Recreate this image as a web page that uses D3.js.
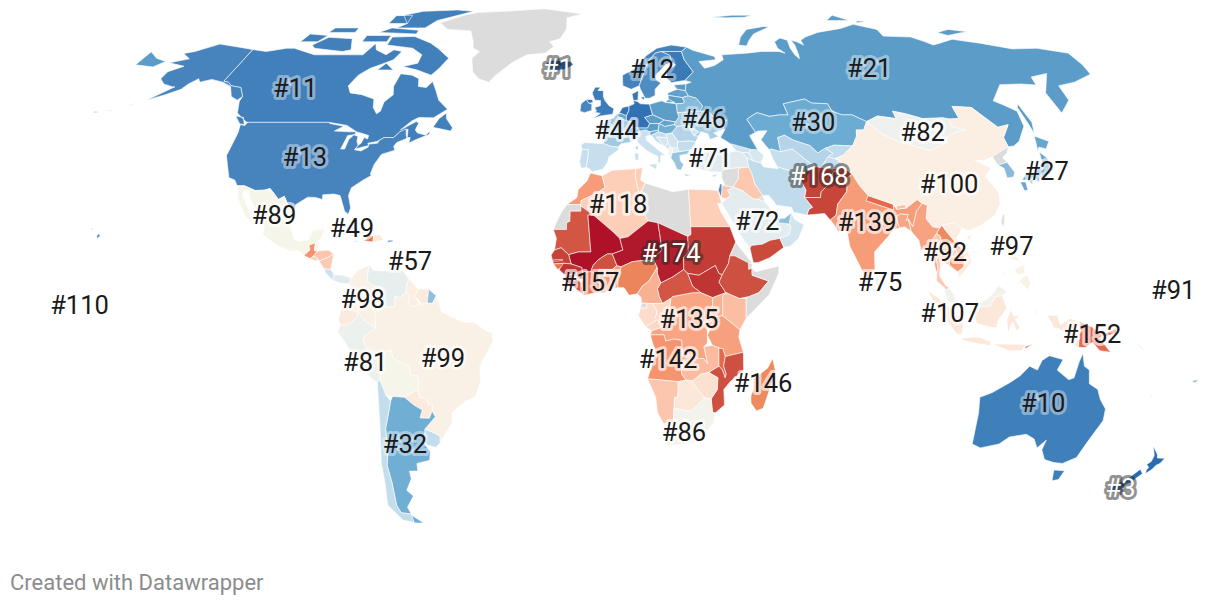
<!DOCTYPE html>
<html><head><meta charset="utf-8">
<script src="https://cdn.jsdelivr.net/npm/d3@7"></script>
<style>html,body{margin:0;padding:0;background:#fff}svg{display:block}</style>
</head><body><svg id="map" width="1220" height="606"></svg>
<script>
// rows: name, rank (null = no data), outlines as "lon,lat ..." rings split by |
const northAmerica = [
["Greenland",null,"-73,78.2 -68,76 -58,75.5 -55,72 -54,70 -51,69 -53,67 -51,63 -48,61 -44,60 -42,62 -37,65.7 -32,68 -25,68.5 -22,70.5 -24,72 -20,73 -18,76 -18.5,80 -12,81.5 -30,83.6 -45,82.7 -60,82 -65,81"],
["Canada",11,"-141,69.6 -135,69 -128,70 -125,70 -115,68 -110,68 -102,68 -96,68 -94,71.5 -92,69.5 -87,68 -85,69.5 -81.5,69 -83,66.5 -87,65 -90,64 -93,62 -94.5,59 -92.5,57 -88,56.5 -83,55.3 -82,53 -80,51.3 -79,52 -79,54.5 -76.8,56.5 -78,58.8 -77.5,62.4 -73,62 -70,61 -69,58.8 -66,58.5 -64.5,60.2 -62,57.5 -60,55 -56,52.5 -60,50.2 -65,50.3 -67,49.4 -70,47 -65.5,49.2 -64.5,48.8 -65,47 -64,46.2 -61,45.6 -60,46.8 -60,45.8 -63.5,44.6 -66,43.6 -66,45 -67,45 -67.5,47.2 -70,46.5 -71.5,45 -74.7,45 -76.5,44 -79.5,43.5 -79,42.9 -80.5,42.6 -83,42 -82.5,43 -81.7,43.5 -81.3,45 -80,44.6 -80,45.5 -82,46 -84.5,46.5 -88.5,48.2 -95,49 -123,49 -125,50 -128,51.5 -130,54.7 -130,56 -133,58.5 -137,59 -139,60 -141,60.3|-80,73.7 -72,71.6 -68,70 -62,67 -64,64 -66,62 -72,63.5 -78,64.5 -73,65.5 -73,68 -78,70 -89,71 -89,73.5|-117,70 -105,69 -102,69.5 -105,73 -115,73.4 -119,71|-125,72 -118,72 -116,74 -124,74.5|-90,76.5 -78,76.5 -75,79 -62,82.5 -70,83.1 -85,82.5 -92,81 -87,78|-96,75 -80,74.5 -80,75.7 -92,76.5|-117,75 -106,75 -106,76.5 -116,76.5|-100,72 -90,72 -90,74 -100,74|-95,78 -87,78 -88,81 -95,80.8|-59.3,47.7 -53,46.7 -52.7,47.6 -55.5,50 -56,51.5 -58,50|-128,50.7 -125,48.6 -123.4,48.4 -125,50.3|-87,63.5 -81,63.5 -85,65.5"],
["United States",13,"-123,49 -95,49 -94.6,48.7 -89.5,48 -92,46.7 -87,46.5 -84.7,46.5 -84.7,45.8 -87,45.5 -87.8,42 -86.5,42 -86.2,44.5 -85,45.7 -83.5,45.3 -83.3,44 -82.5,43 -83.2,41.8 -81,41.5 -79,42.5 -79,43.3 -76.3,43.5 -76,44.2 -74.7,45 -71.5,45 -70,46.5 -68.2,47.3 -67.5,45.5 -67,44.8 -70,43.7 -70.7,42.7 -70,41.7 -74,40.6 -75.5,38 -76,35.5 -75.5,35.2 -78,33.9 -81,32 -81.4,30 -80,26.8 -80.4,25.2 -81.7,26 -82.8,28 -84,30 -86,30.4 -89.5,30.2 -89.3,29 -91.5,29.5 -94,29.6 -97.2,27.7 -97.2,26 -99.5,27.5 -101.4,29.8 -103,29 -104.8,30.5 -106.5,31.8 -108.2,31.4 -111,31.3 -114.8,32.5 -117.1,32.5 -118.5,34 -120.6,34.6 -122.5,37.7 -124.2,40.3 -124,43 -124,46.3 -124.7,48.4 -123,48.2 -122.6,49|-141,69.6 -148,70.4 -156.5,71.3 -163,69 -166.5,68.4 -162,66.8 -168,65.6 -161,64.6 -165,63 -165,61 -162,59.5 -158,58.7 -157,58.7 -163,55 -158,56.5 -154,58 -153,59.5 -151,61 -149.5,60 -146,60.8 -141,60 -137,58.8 -134,56 -131,55 -130,56 -133,58.5 -137,59 -139,60 -141,60.3|-164,54.6 -168,53.3 -167.5,53.6|-171,52.5 -174,52 -173.5,52.2|-176,51.8 -178,51.6 -177.5,51.9|-155.6,19 -155,19.7 -155.8,20.2 -156,19.5|-158.2,21.4 -157.7,21.3 -158,21.7"],
["Mexico",89,"-117.1,32.5 -114.8,32.5 -111,31.3 -108.2,31.4 -106.5,31.8 -104.8,30.5 -103,29 -101.4,29.8 -99.5,27.5 -97.2,26 -97.8,22.4 -95.8,18.8 -94,18.2 -91.5,18.5 -90.5,21 -87,21.5 -87.5,19 -88.3,18.5 -89.1,17.9 -91,17.2 -90.5,16 -92.2,14.6 -94,16 -96.5,15.7 -101,17.3 -105.5,20 -105.5,22 -109,26 -112.5,30 -113,31.2 -114.7,31.5 -114.5,30 -110,24.5 -109.6,23 -112,24.7 -115.5,29"],
["Guatemala",143,"-92.2,14.6 -90.5,16 -91,17.2 -89.1,17.9 -89.2,15.9 -88.3,15.7 -89.3,14.4 -90.2,13.8"],
["Belize",95,"-89.1,17.9 -88.3,18.5 -88.2,16 -89.2,15.9"],
["Honduras",122,"-89.3,14.4 -88.3,15.7 -85,16 -83.2,15 -85,14 -87.4,13.2 -88,13.9"],
["El Salvador",118,"-90.2,13.8 -89.3,14.4 -88,13.9 -87.7,13.2 -89,13.4"],
["Nicaragua",120,"-87.4,13.2 -85,14 -83.2,15 -83.7,11 -85.7,11.1"],
["Costa Rica",58,"-85.7,11.1 -83.7,11 -82.6,9.6 -83,8.2 -85,10"],
["Panama",70,"-83,8.2 -82.6,9.6 -79.8,9.5 -77.4,8.7 -77.8,7.3 -80.3,7.4"],
["Cuba",60,"-84.9,21.9 -82,23.1 -77,21.8 -74.2,20.2 -77.5,19.9 -78,20.7 -82,22.3"],
["Jamaica",60,"-78.3,18.3 -76.3,17.9 -76.6,18.4"],
["Haiti",150,"-74.4,18.4 -71.7,18.1 -71.7,19.7 -73,19.9"],
["Dominican Republic",108,"-71.7,18.1 -68.4,18.6 -69.9,19.8 -71.7,19.9"],
["Puerto Rico",13,"-67.2,18 -65.6,18.2 -65.7,18.5 -67.2,18.5"]
];
const southAmerica = [
["Colombia",98,"-77.4,8.7 -75.5,10.8 -72,12.2 -72.4,11 -72.5,8 -71,7 -67.5,6.2 -67.8,2.8 -70,1.7 -69.9,-4.2 -73,-2.4 -75,-0.1 -78.8,1.4 -77.4,4 -77.8,7.3"],
["Venezuela",76,"-72,12.2 -71,10.8 -68,10.6 -64,10.6 -62,10.7 -60,8.5 -60.7,7 -60.7,5.2 -62.7,3.7 -64,4.1 -64.2,1.4 -66.8,1.2 -67.8,2.8 -67.5,6.2 -71,7 -72.5,8 -72.4,11"],
["Guyana",100,"-60,8.5 -57.2,6 -58,4 -56.6,2 -59,1.3 -60,2.5 -59.8,4.5 -60.7,5.2 -60.7,7"],
["Suriname",105,"-57.2,6 -54,5.9 -54.4,2.3 -56,2 -58,4"],
["French Guiana",40,"-54,5.9 -51.7,4.2 -52.8,2.2 -54.4,2.3"],
["Ecuador",103,"-80,1 -78.8,1.4 -75,-0.1 -75.6,-1.6 -78.3,-3.4 -80.3,-3.4 -81,-2"],
["Peru",81,"-80.3,-3.4 -78.3,-3.4 -75.6,-1.6 -75,-0.1 -73,-2.4 -69.9,-4.2 -73,-6 -73.8,-7.5 -72.5,-9.5 -69.6,-11 -69,-12.5 -69,-16 -69.6,-17.5 -70.4,-18.3 -76,-14 -79,-8 -81.3,-5"],
["Bolivia",90,"-69.6,-11 -65.4,-9.8 -65,-12 -60.5,-13.8 -60,-16.3 -58,-16.5 -57.7,-18 -58.2,-20 -62.6,-22 -66.2,-21.8 -68.2,-21.5 -69.6,-17.5 -69,-16 -69,-12.5"],
["Brazil",99,"-51.7,4.2 -50,0 -48,-0.8 -44,-2.5 -40,-2.8 -37,-4.8 -35,-5.5 -34.8,-7.5 -37,-11 -39,-14 -39,-18 -41,-22 -44,-23 -48.5,-26 -48.8,-28.5 -53.4,-33.7 -53.2,-32 -55.5,-30.9 -57.6,-30.2 -53.8,-27 -54.6,-25.6 -54.3,-24 -55.5,-24 -55.8,-22.3 -58,-22 -58.2,-20 -57.7,-18 -58,-16.5 -60,-16.3 -60.5,-13.8 -65,-12 -65.4,-9.8 -69.6,-11 -72.5,-9.5 -73.8,-7.5 -73,-6 -69.9,-4.2 -70,1.7 -67.8,2.8 -66.8,1.2 -64.2,1.4 -64,4.1 -62.7,3.7 -60.7,5.2 -59.8,4.5 -60,2.5 -59,1.3 -56.6,2 -56,2 -54.4,2.3 -52.8,2.2"],
["Paraguay",104,"-58.2,-20 -58,-22 -55.8,-22.3 -55.5,-24 -54.3,-24 -54.6,-25.6 -55.7,-27.4 -58.6,-27.3 -57.6,-25.3 -60,-24 -62.6,-22"],
["Uruguay",55,"-57.6,-30.2 -55.5,-30.9 -53.2,-32 -53.4,-33.7 -55,-34.9 -58.4,-34"],
["Argentina",32,"-66.2,-21.8 -62.6,-22 -60,-24 -57.6,-25.3 -58.6,-27.3 -55.7,-27.4 -54.6,-25.6 -53.8,-27 -57.6,-30.2 -58.4,-34 -57,-36 -57.7,-38.2 -62,-39 -62.3,-41 -65,-41 -65,-43 -67.5,-46 -65.8,-47.5 -69,-50.5 -68.4,-52.3 -71.8,-52 -72.5,-50 -71.7,-44 -71.8,-39.5 -70.5,-36 -70,-32 -69.8,-30 -68.5,-27 -67,-23|-68.6,-52.6 -65.2,-54.7 -68.6,-54.9"],
["Chile",55,"-69.6,-17.5 -68.2,-21.5 -67,-23 -68.5,-27 -69.8,-30 -70,-32 -70.5,-36 -71.8,-39.5 -71.7,-44 -72.5,-50 -71.8,-52 -68.4,-52.3 -68.6,-54.9 -66.5,-55 -72,-54 -75.5,-50 -74,-44 -73.5,-39 -71.5,-30 -70.4,-18.3"]
];
const europe = [
["Iceland",1,"-24,65.5 -22,66.4 -18,66.2 -14.6,66 -13.6,65 -16,63.8 -19,63.4 -22.7,63.8"],
["Ireland",14,"-10,52 -9.8,54 -8,55.2 -7,54.1 -6,54 -6,52.2 -8.5,51.6"],
["United Kingdom",9,"-5.5,50 -3,50.7 1.3,51.2 1.7,52.7 0,53.5 -1.5,55 -2,56 -2,57.6 -4,57.7 -3,58.6 -5,58.6 -6,57 -5,55 -3,54.9 -3,53.5 -5,53 -4.3,52 -5.2,51.8 -3,51.4|-8,55.2 -6,55.2 -5.5,54.4 -7,54.1"],
["France",44,"-1.8,43.4 -1.2,46 -2.5,47.3 -4.7,48.4 -1.5,48.7 -1.5,49.7 1.5,50.1 2.5,51.1 4.2,50 5.9,49.5 8.2,49 7.6,47.6 6,46.4 7,45.9 7,44.2 7.5,43.8 4,43.4 3,42.5 0.7,42.7|8.6,42.4 9.5,43 9.4,41.5"],
["Spain",56,"-9.2,43.1 -8,43.7 -1.8,43.4 0.7,42.7 3,42.5 3.2,41.8 0,40 -0.5,38.5 -2,36.8 -5.4,36.1 -6.4,37 -7.4,37.2 -7,39 -6.7,41.9 -8.8,41.9"],
["Portugal",56,"-8.8,41.9 -6.7,41.9 -7,39 -7.4,37.2 -8.9,37 -9.5,38.8"],
["Belgium",28,"2.5,51.1 4.2,51.4 6,50.8 5.9,49.5 4.2,50"],
["Netherlands",6,"3.4,51.4 4.7,53 7,53.4 6.9,52.2 6,50.8 4.2,51.4"],
["Germany",5,"6,50.8 6.9,52.2 7,53.4 8.8,54 8.6,54.9 10,54.6 11,54 14.2,53.9 14.7,52 15,51 12.2,50.3 13.8,48.7 13,47.5 9.6,47.5 7.6,47.6 8.2,49 5.9,49.5"],
["Switzerland",15,"6,46.4 7.6,47.6 9.6,47.5 10.4,46.7 9,45.9 7,45.9"],
["Italy",58,"7,45.9 9,45.9 10.4,46.7 12.3,47 13.7,46.5 13.7,45.7 12.3,45.3 12.4,44.2 13.6,43.5 15.9,41.9 18.5,40.2 16.9,40.4 16.6,38.8 15.7,38 15.9,40 12.5,41.5 10.5,42.9 8.8,44.4 7.5,43.8 7,44.2|12.5,38 15.5,38.2 15.1,36.7|8.3,40.9 9.7,41 9.5,39.1 8.5,39"],
["Austria",22,"9.6,47.5 13,47.5 13.8,48.7 17,48.7 16.5,46.9 13.7,46.5 12.3,47 10.4,46.7"],
["Denmark",7,"8.6,54.9 8.2,56.7 10.6,57.7 10.2,55|11.2,55.7 12.5,56 12.4,55"],
["Norway",12,"5,59 5,62 10,64 14,67.5 19,70 25,71 31,70.3 28.5,69 25.5,69 20.6,69 18.1,68.5 15,66 12,61 11,59 8,58"],
["Sweden",16,"11,59 12,61 15,66 18.1,68.5 20.6,69 23.7,67.9 24,65.8 21.5,65 17.3,62 17.3,60.6 18.9,59.8 16.6,58 16.4,56.3 14.3,55.5 12.8,55.5 11.3,58"],
["Finland",8,"23.7,67.9 20.6,69 25.5,69 28.5,69 29,66.5 31.5,62.9 27.8,60.5 22.9,59.9 21.3,61 21.5,63 25.3,65 24,65.8"],
["Estonia",20,"23.5,59.2 28,59.5 27.4,57.6 24.5,58"],
["Latvia",24,"21,57 24.5,58 27.4,57.6 28.2,56.2 26,55.7 21,56.3"],
["Lithuania",22,"21,56.3 26,55.7 26.5,54.5 25.8,54.1 23.5,54 21,55.2"],
["Poland",22,"14.2,53.9 18.5,54.8 19.7,54.4 23.5,54 23.6,51.6 24,50.5 22.6,49.1 18.8,49.6 15,51 14.7,52"],
["Czechia",22,"12.2,50.3 15,51 18.8,49.6 17,48.7 13.8,48.7"],
["Slovakia",25,"17,48.7 18.8,49.6 22.6,49.1 22,48.4 18.8,47.9"],
["Hungary",32,"16.5,46.9 17,48.7 18.8,47.9 22,48.4 22.9,47.9 21,46.2 18.9,45.9 16.6,46.5"],
["Belarus",38,"23.5,54 25.8,54.1 26.5,54.5 26,55.7 28.2,56.2 30.8,55.6 32.7,53.4 31.5,52 23.6,51.6"],
["Ukraine",46,"24,50.5 23.6,51.6 31.5,52 34,52 36,50.4 40,49.6 38.2,47.1 35,46.2 36.5,45.3 33.5,44.5 33,46 30.7,46.5 29.7,45.3 28.2,45.5 30,46.5 26.6,48.3 22.9,47.9 22,48.4 22.6,49.1"],
["Moldova",62,"26.6,48.3 30,46.5 28.2,45.5"],
["Romania",50,"22.9,47.9 26.6,48.3 28.2,45.5 29.7,45.3 28.6,43.8 27,44.1 22.7,43.9 22.7,44.2 21,46.2"],
["Bulgaria",55,"22.7,43.9 27,44.1 28.6,43.8 27.6,42 26.3,41.7 22.9,41.3 22.4,42.3"],
["Serbia",62,"18.9,45.9 21,46.2 22.7,44.2 22.4,42.3 21,42.2 20.1,42.6 19.5,43.5 19.2,45"],
["Croatia",55,"13.7,45.5 16.6,46.5 18.9,45.9 19.2,45 15.8,45.1 18.4,42.6 15.2,44.2 14.5,45.2"],
["Slovenia",30,"13.7,46.5 16.5,46.9 16.6,46.5 13.7,45.5"],
["Bosnia and Herzegovina",65,"15.8,45.1 19.2,45 19.5,43.5 18.4,42.6"],
["Montenegro",62,"18.4,42.6 19.5,43.5 20.1,42.6 19.3,41.9"],
["Albania",85,"19.3,41.9 20.1,42.6 21,42.2 20.6,41 20,39.7 19.4,40.5"],
["North Macedonia",70,"20.6,41 21,42.2 22.4,42.3 22.9,41.3"],
["Greece",42,"20,39.7 20.6,41 22.9,41.3 26.3,41.7 26,40.8 23,40.3 23,39 24,38 23,36.5 21.7,36.8 21,38.5|23.6,35.6 26.3,35.2 24.5,35"],
["Turkey",71,"26.3,41.7 27.6,42 29,41.2 31.5,41.2 35,42 38,41 41.5,41.5 43.5,41.1 44.7,39.7 44.8,37.3 42.3,37.2 36.7,36.8 36,36 32.5,36.1 30.5,36.5 27.4,37 26.3,38.7 26.2,40 29,40.4 26.8,40.6"],
["Georgia",60,"40,43.4 46.5,41.9 45.5,41 43.5,41.1 41.5,41.5"],
["Armenia",60,"43.5,41.1 45.5,41 46.5,38.9 44.7,39.7"],
["Azerbaijan",66,"45.5,41 46.5,41.9 48.6,41.8 50.3,40.3 48.9,38.4 46.5,38.9"],
["Cyprus",50,"32.3,35 34.5,35.6 33.6,34.8"]
];
const asia = [
["Russia",21,"37,45 40,43.4 46.5,41.9 48.6,41.8 47.5,44 46.8,45.5 49,46.4 47,49.8 48.6,50.6 51,51.6 55,50.6 58.5,51 61.5,51 61,54 69,55.3 71,54.2 76.5,54 77,52 80,51 83.5,51 87.5,49.2 92,50.7 98,50 98,52 102,51.3 107,50 114,50.2 116,49.9 119.5,50 119.5,53.3 126,53 131,47.7 135,48.4 131,45 131,42.6 133,42.8 135.5,44 140,48 141,52 137.5,53.8 135.2,54.8 142,59.3 150,59.5 155,59.2 156,61.5 163,62.5 156,57 156,51.5 162,55 163,59 170,60 179,62.3 180,65 180,68.5 170,70 160,69.8 150,71.5 140,72.8 133,71.5 130,71 128,72 124,73.5 113,73.8 113,76 105,77.7 98,76.3 87,75 80.7,73.5 78,72.5 78,71 76,72 74,72.5 74.5,71 74,68 73.5,66.8 72.5,68 72,70 72.5,72.5 70,73.2 67,72 67,70 69,68.5 67,69 60,69 54,68.5 44,68 44,66.5 40,64.8 36,64 34.5,66 41,66.5 41,67.5 33,69.4 31,70.3 28.5,69 29,66.5 31.5,62.9 27.8,60.5 30,60 28,59.5 27.4,57.6 28.2,56.2 30.8,55.6 32.7,53.4 31.5,52 34,52 36,50.4 40,49.6 38.2,47.1 39,47.2|-180,65 -172.5,64.4 -170,66 -175,67 -180,68.9|52,71 55,70.7 57,72.5 60,74.5 68,76.8 66,77 58,76 54,73.5|142,46 143.5,49 143,54 142,53 142,49|95,79 105,79 100,81|107,78.2 112,78.8 108,78.9|137,75 143,76 150,75.2 146,74.8 140,74|45,80.2 55,81 64,81 60,80.2 52,80|19.7,54.4 23,54.4 21,55.2"],
["Kazakhstan",30,"49,46.4 47,49.8 48.6,50.6 51,51.6 55,50.6 58.5,51 61.5,51 61,54 69,55.3 71,54.2 76.5,54 77,52 80,51 83.5,51 87.5,49.2 85.5,47 83,47 82.3,45.3 80,42.8 74,43 70.9,42.2 68,41 66,42.9 61,44.3 58.5,45.6 56,45 56,41.3 53,42 52.4,41.8 50.3,44.4 53,46.8 50,46.7"],
["Uzbekistan",50,"56,45 58.5,45.6 61,44.3 66,42.9 68,41 70.9,42.2 73,40.8 71,40 68,37.2 66.5,37.4 64,38.9 60,42 56,41.3"],
["Turkmenistan",56,"52.4,41.8 53,42 56,41.3 60,42 64,38.9 66.5,37.4 61,35.5 54,37.4 53,39.5"],
["Kyrgyzstan",54,"70.9,42.2 74,43 80,42.8 76,40.4 73,39.5 71,40 73,40.8"],
["Tajikistan",56,"68,37.2 71,40 73,39.5 75,38.5 75,37.4 71.5,36.8"],
["Afghanistan",168,"61,35.5 66.5,37.4 68,37.2 71.5,36.8 75,37.4 71.5,36 69.5,33 66.5,31 66,29.5 61,29.5 61.8,31.4 60.8,33.6"],
["Pakistan",166,"61,25 61.8,26.5 63,27 61,29.5 66,29.5 66.5,31 69.5,33 71.5,36 75,37.4 77.5,35.5 74.5,34 75,32.5 74.5,31 71,27.8 70,25 68,23.7 66.5,25.4"],
["Iran",54,"44.8,37.3 44.7,39.7 46.5,38.9 48.9,38.4 49.5,37.4 54,36.9 54,37.4 61,35.5 60.8,33.6 61.8,31.4 61,29.5 63,27 61.8,26.5 61,25 57,25.7 56.5,27 52,27.5 50,30 48,30 46,33 45.5,35.5"],
["Iraq",121,"42.3,37.2 44.8,37.3 45.5,35.5 46,33 48,30 46.5,29 44.7,29.2 42,31.2 39,32.2 41,34.4 41.3,36.7"],
["Syria",null,"36.7,36.8 42.3,37.2 41.3,36.7 41,34.4 39,32.2 36.5,32.5 35.8,34.6 36,36"],
["Israel",16,"34.3,31.3 35,33 35.6,33 35.5,31.5 35,29.5"],
["Jordan",122,"35,29.5 35.5,31.5 35.6,32.7 36.5,32.5 39,32.2 37.2,31.3 38,30 36.7,29.2"],
["Saudi Arabia",72,"35,28 36.7,29.2 38,30 37.2,31.3 39,32.2 42,31.2 44.7,29.2 46.5,29 48.4,28.5 50,26.7 51,24.6 52,23 55.2,22.7 55.7,22 55,20 52,19 49,18.5 46.5,17.5 43.2,17.2 42.7,16.5 41,18.5 39,21.5 37.2,24.5"],
["Yemen",164,"42.7,16.5 43.2,17.2 46.5,17.5 49,18.5 52,19 53,16.7 48.5,14 45,12.8 43.5,12.7 43.2,14"],
["Oman",62,"52,19 55,20 55.7,22 55.2,22.7 55.7,24 56.3,25.6 57,23.9 59.8,22.5 57.7,19 55,17 53,16.7"],
["United Arab Emirates",40,"51.6,24.2 54,24.2 56.3,25.6 55.7,24 55.2,22.7 52,23"],
["Qatar",62,"51,24.6 51.6,26 51.6,24.8"],
["Kuwait",62,"46.5,29 48,30 48.4,28.5"],
["India",139,"68,23.7 70,25 71,27.8 74.5,31 75,32.5 74.5,34 77.5,35.5 79,32.5 81,30 80,28.7 88,26.3 88.2,27.8 89,26.5 92,26.8 96,29 97.3,28 95,26 94,24 93,22 92,24 91.2,23.5 92.2,25.1 89.8,25.3 88.3,24.5 88.9,21.7 87,21.3 85,19.5 80.3,15.5 80,11 77.5,8 76,11 73,17 72.7,21 70,20.8 69,22.5"],
["Nepal",152,"80,28.7 81,30 88.2,27.8 88,26.3"],
["Bhutan",125,"89,27.3 92,27.8 92,26.8 89,26.5"],
["Bangladesh",135,"88.3,24.5 89.8,25.3 92.2,25.1 91.2,23.5 92,24 92.3,20.8 90.5,22 88.9,21.7"],
["Sri Lanka",75,"79.8,8 80.2,9.7 81.8,7.5 80.6,6"],
["China",100,"75,37.4 73.7,39.5 76,40.4 80,42.8 82.3,45.3 83,47 85.5,47 87.5,49.2 91,46 95.5,44 101,42.6 105,41.6 111.5,43.7 112,45 117,46.7 119.5,47 115.5,47.9 116,49.9 119.5,50 119.5,53.3 126,53 131,47.7 135,48.4 131,45 131,42.6 128,41.5 124.3,40 121,39 118,39.2 122.5,37 119.5,35 122,31 121.5,28 119,25 114,22.4 110,21 108,21.6 106,23 102,22.4 101.1,21.6 99,22 97.5,24 98.7,27.5 97.3,28 96,29 92,26.8 92,27.8 89,27.3 88.2,27.8 81,30 79,32.5 77.5,35.5|108.7,19.2 110.5,20.1 109.7,18.3"],
["Mongolia",82,"87.5,49.2 92,50.7 98,50 98,52 102,51.3 107,50 114,50.2 116,49.9 115.5,47.9 119.5,47 117,46.7 112,45 111.5,43.7 105,41.6 101,42.6 95.5,44 91,46"],
["North Korea",null,"124.3,40 128,41.5 131,42.6 129.7,41 127.5,39.8 128.3,38.6 125,37.8"],
["South Korea",38,"125,37.8 128.3,38.6 129.4,36 128.5,34.8 126.3,34.5 126.5,37"],
["Japan",27,"130.9,34 132.5,35.5 136,35.8 137,37 139.5,38.3 140.3,41.2 142,39.5 140.8,35.7 139,35 137,34.6 135.7,33.5 135,34.6 132.5,34|140,41.5 141.5,45.4 145.3,44 143,42 141,42.5|130,33.5 131.7,33.5 131.5,31.4 130.3,31.3|132.5,33.8 134.5,34.2 133.5,33"],
["Taiwan",null,"120.2,23 121.5,25.3 121.9,25 120.9,22"],
["Myanmar",136,"92.3,20.8 92,24 93,22 94,24 95,26 97.3,28 98.7,27.5 97.5,24 99,22 101.1,21.6 100,20.3 97.7,18 98.7,15 99,11 98.5,10 97.7,14 97.5,16.6 94.5,16 94.2,18.5"],
["Thailand",120,"97.7,18 100,20.3 101,19.5 101,17.6 104.8,17.4 105.5,14.5 102.8,14 102.5,12.1 100.9,12.7 100.5,13.5 100,13 99.3,9.3 101,6.8 102,6.2 101,5.7 100.2,6.5 98.3,8 98.5,10 99,11 98.7,15"],
["Laos",146,"100,20.3 101.1,21.6 102,22.4 103,20.8 104.6,18.8 106.8,16.3 107.5,14.7 105.5,14.5 104.8,17.4 101,17.6 101,19.5"],
["Vietnam",101,"102,22.4 106,23 108,21.6 105.7,19 108.5,16 109.3,13 107,10.5 105,8.7 104.8,10.4 106.7,11.6 107.5,14.7 106.8,16.3 104.6,18.8 103,20.8"],
["Cambodia",139,"102.8,14 105.5,14.5 107.5,14.7 106.7,11.6 104.8,10.4 102.5,12.1"],
["Malaysia",84,"100.2,6.5 101,5.7 102,6.2 103.4,4.5 104.2,1.4 101.3,2.9|109.6,1.9 111.5,2.6 113,3.2 115.2,5 116.7,7 119.2,5.2 117.7,4.2 115.7,4 114,1.5 112,1.4 110,1"],
["Indonesia",107,"95.3,5.6 98,4 103.5,0 106,-3 105.8,-5.8 104,-5.6 100.5,-1.5 97,3|105.2,-6.8 108.5,-6.5 111,-6.5 114.5,-7.7 114.4,-8.7 110,-8.1 106.5,-7.4|109,0 109.6,1.9 110,1 112,1.4 114,1.5 115.7,4 117.7,4.2 119,1 116.5,-2 116,-4 114.5,-4 110,-3|119.5,-5.5 120.4,-3 121,-2.6 122,-5 123,-4 121.5,-1.9 123,-1 121,-1 120,1 125,1.7 120.5,1.2 119,-2|131,-1 134,-0.8 135,-3.3 138,-1.7 141,-2.6 141,-9.1 138,-8.3 138,-7 135,-4.4 133,-4 132.5,-2.8|115,-8.3 119,-8.3 125,-8.4 124,-10 120,-10|128,1 128,-1 127.5,0"],
["Timor-Leste",150,"124.9,-8.9 127.3,-8.3 125,-9.5"],
["Philippines",97,"120.5,18.5 122.2,18.4 121.6,16 124,13 121,13.7 120,16|122,7 125.5,9.7 126.5,7.5 125.5,5.7 123.5,7.7|122,11 125,12.3 125,10 122.7,9.6|117.2,8.4 119.5,11.3 119.2,10.2"],
["Papua New Guinea",152,"141,-2.6 144.5,-3.8 147.8,-6 147,-6.8 150.8,-10.4 147.5,-10 145,-7.8 143,-9.2 141,-9.1|148.5,-5.6 152,-4.2 152,-5.5 149,-6.3"],
["Solomon Islands",110,"157,-7.5 161,-10 160,-9"],
["New Caledonia",100,"164,-20.2 167,-22.3 166,-22"],
["Fiji",40,"177.3,-17.6 178.6,-17.5 178.4,-18.2 177.3,-18.2"],
["Australia",10,"113.5,-22 114.2,-26 115,-34 118,-35 123.5,-34 126,-32.2 131,-31.5 134,-32.7 136,-35 138,-33 137.8,-35.5 140,-38 143.5,-38.8 146.4,-39 150,-37.5 151,-34 153.5,-28 153,-25 150.5,-22.5 149,-20 146,-18.5 145.2,-15 143.5,-14 142.5,-10.7 141.7,-13 141,-17 139.5,-17.5 135.5,-15 136.8,-12.3 132.5,-11.3 130.5,-12.5 129.5,-15 127,-14 124.5,-16.5 122.2,-18 117,-20.8|144.7,-40.7 148.3,-40.9 147.9,-43.2 146,-43.5"],
["New Zealand",3,"172.7,-40.5 174.3,-41.7 173,-43 172.8,-43.8 171.2,-44.5 170.8,-45.9 169,-46.6 166.5,-46 167.5,-44.8 170.5,-43 171.5,-41.8|172.7,-34.5 174.5,-36 175.5,-36.8 176,-37.6 178.5,-37.7 177.9,-39 177,-39.5 176.5,-40.5 175.3,-41.6 174.8,-40.8 175,-40 173.8,-39.3 174.7,-38.5 174.6,-37"]
];
const africa = [
["Morocco",139,"-5.9,35.8 -2.2,35.1 -1.2,32.1 -3.7,30.7 -8.7,28.7 -8.7,27.7 -13,27.7 -10,29.5 -9.7,31.5 -7,33.7"],
["Western Sahara",null,"-13,27.7 -8.7,27.7 -8.7,26 -12,26 -12,23.4 -13,23 -13,21.3 -17,21.3 -16,23.5 -14.5,26"],
["Algeria",118,"-2.2,35.1 1,36.5 8.6,36.9 8.3,35 9.5,30.2 9.9,27 12,23.5 5.8,19.4 3.3,19 1.2,20.7 -4.8,25 -8.7,27.3 -8.7,28.7 -3.7,30.7 -1.2,32.1"],
["Tunisia",118,"8.6,36.9 10.8,37.2 10,34 11.5,33.2 9.5,30.2 8.3,35"],
["Libya",null,"9.5,30.2 11.5,33.2 15,32.3 20,31 25,31.6 25,22 25,20 24,19.5 15,23 12,23.5 9.9,27"],
["Egypt",118,"25,31.6 31,31.5 34.2,31.3 35,28 33.7,28 34.5,26 37,22 25,22"],
["Mauritania",158,"-17,21.3 -13,21.3 -13,23 -12,23.4 -12,26 -8.7,26 -8.7,27.3 -4.8,25 -6.5,25 -5.5,15.5 -9.3,15.5 -12.2,14.8 -14.5,16.6 -16.5,16 -16,19"],
["Mali",175,"-12.2,14.8 -9.3,15.5 -5.5,15.5 -6.5,25 -4.8,25 1.2,20.7 3.3,19 4.2,16 1,15 -0.5,15 -2,14.2 -3.5,13.3 -4.8,12 -5.5,10.4 -8,10.3 -8.2,11.5 -11.4,12.4"],
["Senegal",168,"-17.5,14.7 -16.5,16 -14.5,16.6 -12.2,14.8 -11.4,12.4 -13.7,12.6 -16.7,12.4"],
["Gambia",172,"-16.7,13.5 -14,13.6 -14,13.3 -16.7,13.1"],
["Guinea-Bissau",150,"-16.7,12.4 -13.7,12.6 -13.7,11.7 -15.5,11"],
["Guinea",170,"-13.7,12.6 -11.4,12.4 -8.2,11.5 -8,10.3 -7.7,8.5 -9.5,8.5 -10.5,9.8 -13.2,9.5 -15,10.9"],
["Sierra Leone",165,"-13.2,9.5 -10.5,9.8 -10.7,8 -11.5,7 -13.2,8"],
["Liberia",160,"-11.5,7 -10.7,8 -9.5,8.5 -8.3,7.5 -7.5,4.4"],
["Cote d'Ivoire",150,"-8.3,7.5 -7.7,8.5 -8,10.3 -5.5,10.4 -3,10 -2.7,5.2 -7.5,4.4"],
["Burkina Faso",160,"-5.5,10.4 -4.8,12 -3.5,13.3 -2,14.2 -0.5,15 1,15 2.4,12 1,11 0,11 -3,11 -3,10"],
["Ghana",138,"-3,10 -3,11 0,11 0.5,8 1.2,6.1 -2,4.8 -2.7,5.2"],
["Togo",135,"0,11 1,11 1.6,9 1.7,6.2 1.2,6.1 0.5,8"],
["Benin",140,"1,11 2.4,12 3.7,11.7 2.7,9 2.7,6.3 1.7,6.2 1.6,9"],
["Niger",174,"4.2,16 3.3,19 5.8,19.4 12,23.5 15,23 15.5,20 16,16 13.5,14 13.6,13.3 10,13.3 7,13 3.7,11.7 2.4,12 1,15"],
["Nigeria",147,"2.7,6.3 2.7,9 3.7,11.7 7,13 10,13.3 13.6,13.3 14.5,11.5 12,8 10,6.7 8.5,4.7 6,4.3 4.5,6.3"],
["Chad",173,"15,23 24,19.5 24,15.5 22.5,14 22.5,11 19,9 15.5,7.5 14.5,10 14.5,11.5 13.6,13.3 13.5,14 16,16 15.5,20"],
["Sudan",169,"25,22 37,22 38.5,18 36.5,14.5 36,12.5 34,9.6 33,10 32,12 27,9.5 23.6,10 22.5,11 22.5,14 24,15.5 24,19.5 25,20"],
["South Sudan",170,"23.6,10 27,9.5 32,12 33,10 34,9.6 33,7.7 35,5 31,3.7 27.5,5 25,6.7"],
["Eritrea",null,"36.5,14.5 38.5,18 43.2,12.5 42,12.7 38,14.5"],
["Djibouti",null,"42,12.7 43.2,12.5 43,11.4 42,11"],
["Ethiopia",160,"36,12.5 36.5,14.5 38,14.5 42,12.7 42,11 43,11.4 43,9.5 47.9,8 44.9,5 42,4 39,3.5 35,5 33,7.7 34,9.6"],
["Somalia",null,"43,11.4 44,10.4 51.2,11.9 51,10 48,4.5 41,-1.7 41,3.5 42,4 44.9,5 47.9,8 43,9.5"],
["Kenya",125,"35,5 39,3.5 41,3.5 41,-1.7 39.2,-4.6 34,-1 34,4"],
["Uganda",130,"31,3.7 35,5 34,4 34,-1 30,-1.4 31,2"],
["Tanzania",137,"30,-1.4 34,-1 39.2,-4.6 38.9,-6.5 40.4,-10.4 35,-11.5 34.2,-9.5 33,-9.3 31,-8.6 29.5,-6 30.8,-3.4 30.8,-2.4"],
["Rwanda",125,"29,-1.4 30,-1.4 30.8,-2.4 29,-2.7"],
["Burundi",145,"29,-2.7 30.8,-2.4 30.8,-3.4 30.5,-4.2 29.4,-4.4"],
["DR Congo",135,"12.4,-6 13.2,-5.9 16.5,-5.9 17,-7.5 19.5,-7 21.8,-7.3 22,-11 24,-11 24.5,-11 27,-12 28.5,-12 29.8,-13.4 28.5,-9 29.5,-8 29.5,-6 29.4,-4.4 29,-2.7 29,-1.4 30,-1.4 31,2 31,3.7 27.5,5 25,5 19,4 18.5,3.5 17.8,-1 16.5,-1.8 16,-3.8 14,-4.5 12.8,-4.8"],
["Central African Republic",158,"14.5,6 15.5,7.5 19,9 22.5,11 23.6,10 25,6.7 27.5,5 25,5 19,4 18.5,3.5 16,2.2 15,4"],
["Cameroon",130,"8.5,4.7 10,6.7 12,8 14.5,11.5 14.5,10 15.5,7.5 14.5,6 15,4 16,2.2 13,2.2 9.8,2.3 9.6,3.8"],
["Equatorial Guinea",null,"9.8,2.3 11.3,2.2 11.3,1 9.4,1"],
["Gabon",112,"9.4,1 11.3,1 11.3,2.2 13,2.2 14.5,0 13.8,-1.5 14.4,-2 12.5,-3 11,-3.9 8.8,-1"],
["Congo",114,"11,-3.9 12.5,-3 14.4,-2 13.8,-1.5 14.5,0 13,2.2 16,2.2 18.5,3.5 17.8,-1 16.5,-1.8 16,-3.8 14,-4.5 12.8,-4.8"],
["Angola",142,"12.4,-6 13.2,-5.9 16.5,-5.9 17,-7.5 19.5,-7 21.8,-7.3 22,-11 24,-11 22,-13 22,-16 23.4,-17.6 21,-18 13.8,-17.4 11.7,-17.3 13.5,-12 13.8,-10"],
["Zambia",126,"22,-13 24,-11 24.5,-11 27,-12 28.5,-12 29.8,-13.4 28.5,-9 31,-8.6 33,-9.3 33.2,-14 30.2,-15.6 28,-16 25.3,-17.8 23.4,-17.6 22,-16"],
["Malawi",152,"33,-9.3 34.2,-9.5 35,-11.5 34.6,-14 35.5,-16 35.2,-17 34.3,-15 33.2,-14"],
["Mozambique",160,"35,-11.5 40.4,-10.4 40.7,-15 36.8,-18 35,-20 35.5,-24 32.9,-26 32,-26 31.3,-22.4 33,-20 33,-17 30.2,-15.6 33.2,-14 34.3,-15 35.2,-17 35.5,-16 34.6,-14"],
["Zimbabwe",110,"25.3,-17.8 28,-16 30.2,-15.6 33,-17 33,-20 31.3,-22.4 29.3,-22.2 26,-19"],
["Botswana",107,"21,-18 23.4,-17.6 25.3,-17.8 26,-19 29.3,-22.2 26.5,-24.7 25.3,-25.7 23,-25.3 20,-24.8 20,-22 21,-22"],
["Namibia",122,"11.7,-17.3 13.8,-17.4 21,-18 21,-22 20,-22 20,-24.8 20,-28.5 17,-28.8 15,-26 14.3,-22"],
["South Africa",86,"17,-28.8 20,-28.5 20,-24.8 23,-25.3 25.3,-25.7 26.5,-24.7 29.3,-22.2 31.3,-22.4 32,-26 32.9,-26 32.5,-28.5 30.5,-31 27,-33.7 22,-34.2 18.5,-34.4 18.2,-31.8"],
["Madagascar",146,"49.3,-12 50.4,-15.5 49.6,-18 48.5,-21.5 47.5,-24.8 45.5,-25.5 43.6,-23.5 43.4,-21.7 44,-20 44,-17 46.3,-15.6 47.9,-14.5"]
];

const labelRanks = [1,12,21,11,13,44,46,30,82,71,168,27,100,118,89,49,72,139,174,92,97,57,157,75,98,110,91,107,135,152,81,99,142,146,10,32,86,3];
const labelLons = [-19.3,16.2,98.2,-113.3,-98.6,2.4,32.4,69.3,105,32.7,66.8,139.8,107.3,2.8,-103.2,-78.6,45.5,79.2,18.8,101.6,122,-60,-5.7,81.3,-73.7,-158.4,169,101.9,23.9,144.7,-73.5,-50,17.8,46.8,133.3,-64.6,23.5,170.3];
const labelLats = [64.2,63.9,64.1,58.4,40,47,49.9,49,46.5,39.7,35,36.4,33,27.8,24.9,21.6,23.6,23.1,15.3,15.6,17.1,13.2,7.8,7.8,3.4,1.8,5.7,-0.3,-1.8,-5.7,-13,-12,-12.2,-18.4,-23.4,-34,-30.9,-45.5];
const invertedLabels = [1,3,168,174];
const softLabels = [11,13,10,21,30,32,12,46];

const rankStops = [1,3,10,13,21,32,46,57,72,82,90,99,100,107,118,135,142,146,152,160,168,174];
const colorStops = ["#2567ad","#2b6cb1","#3f7fba","#4783bc","#5b9cc8","#70aed4","#a9cde4","#c9e0ee","#e3ecef","#eef1ed","#f6f5ea","#f9f1e5","#fbeee2","#fce8da","#fdcfb9","#f8a584","#f49570","#ee8a5f","#e4694f","#cd5040","#c64337","#b2182b"];
const noDataColor = "#dcdcdc";
const footer = "Created with Datawrapper";

const color = d3.scaleLinear().domain(rankStops).range(colorStops);
const projection = d3.geoNaturalEarth1().scale(220).translate([609,312]);
const line = d3.line();
const rings = s => s.split("|").map(r => r.trim().split(" ").map(p => p.split(",").map(Number)));
const pathOf = s => rings(s).map(r => line(r.map(projection)) + "Z").join("");

const svg = d3.select("#map");
const countries = [...northAmerica, ...southAmerica, ...europe, ...asia, ...africa];
svg.append("g").selectAll("path").data(countries).join("path")
  .attr("d", d => pathOf(d[2]))
  .attr("fill", d => d[1] === null ? noDataColor : color(d[1]))
  .attr("stroke", "#fff").attr("stroke-width", 0.6).attr("stroke-linejoin", "round")
  .append("title").text(d => d[0]);

const labels = labelRanks.map((r,i) => ({r, p: projection([labelLons[i], labelLats[i]])}));
svg.append("g").selectAll("text").data(labels).join("text")
  .attr("x", d => d.p[0]).attr("y", d => d.p[1])
  .attr("text-anchor", "middle").attr("dominant-baseline", "central")
  .attr("font-family", "Roboto, sans-serif").attr("font-size", 25.5)
  .attr("paint-order", "stroke").attr("stroke-width", 6).attr("stroke-linejoin", "round")
  .attr("fill", d => invertedLabels.includes(d.r) ? "#fff" : "#1a1a1a")
  .attr("stroke", d => invertedLabels.includes(d.r) ? "rgba(40,40,40,0.5)" : softLabels.includes(d.r) ? "rgba(255,255,255,0.4)" : "rgba(255,255,255,0.65)")
  .text(d => "#" + d.r);

svg.append("text").attr("x", 10).attr("y", 590)
  .attr("font-family", "Roboto, sans-serif").attr("font-size", 22).attr("fill", "#8c8c8c")
  .text(footer);
</script></body></html>
